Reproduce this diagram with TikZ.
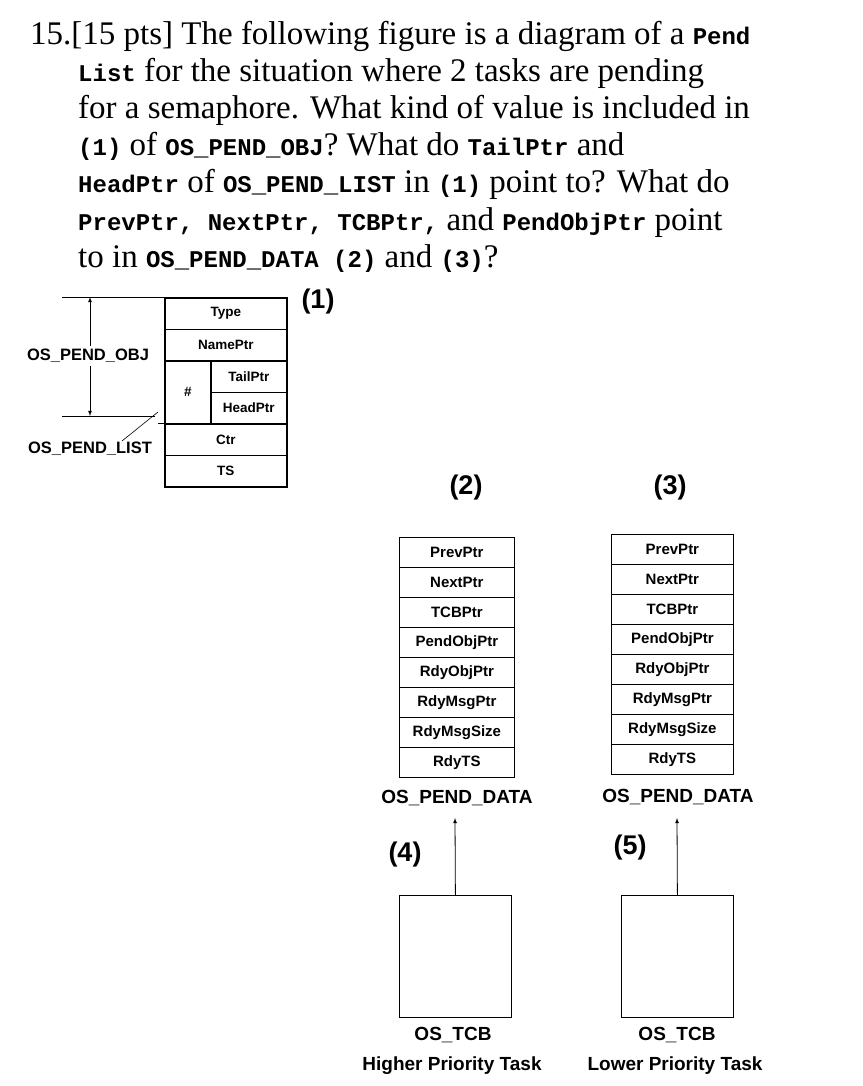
\documentclass[tikz,border=0pt]{standalone}
\usepackage{fontspec}
\setmainfont{Liberation Serif}
\setmonofont{Liberation Mono}
\newfontfamily\dsans{Liberation Sans}
\newcommand{\mtx}[1]{{\fontsize{24}{36}\selectfont\ttfamily\bfseries #1}}
\begin{document}
\begin{tikzpicture}[x=1pt,y=-1pt,
 cell/.style={draw,line width=1.6pt,minimum width=122pt,minimum height=31.5pt,font=\dsans\bfseries\fontsize{13.5}{15}\selectfont,anchor=north west,inner sep=0pt},
 dcell/.style={draw,line width=0.8pt,minimum width=115pt,minimum height=30pt,font=\dsans\bfseries\fontsize{15}{17}\selectfont,anchor=north west,inner sep=0pt},
 lbl/.style={font=\dsans\bfseries\fontsize{16.5}{18}\selectfont},
 big/.style={font=\dsans\bfseries\fontsize{19}{21}\selectfont},
 num/.style={font=\dsans\bfseries\fontsize{27}{29}\selectfont},
 tl/.style={anchor=base west,font=\fontsize{33}{36}\selectfont,inner sep=0pt}]
\useasboundingbox (0,0) rectangle (862,1086);
% question text
\node[tl] (q1) at (30,45) {15.[15 pts] The following figure is a diagram of a \mtx{Pend}};
\node[tl] (q2) at (78,82) {\mtx{List} for the situation where 2 tasks are pending};
\node[tl] (q3) at (78,119) {for a semaphore. What kind of value is included in};
\node[tl] (q4) at (78,156) {\mtx{(1)} of \mtx{OS\_PEND\_OBJ}? What do \mtx{TailPtr} and};
\node[tl] (q5) at (78,193) {\mtx{HeadPtr} of \mtx{OS\_PEND\_LIST} in \mtx{(1)} point to? What do};
\node[tl] (q6) at (78,230) {\mtx{PrevPtr, NextPtr, TCBPtr,} and \mtx{PendObjPtr} point};
\node[tl] (q7) at (78,267) {to in \mtx{OS\_PEND\_DATA (2)} and \mtx{(3)}?};
% structure (1)
\node[cell] (type) at (164,297) {Type};
\node[cell] (name) at (164,328.5) {NamePtr};
\node[cell,minimum width=46pt,minimum height=63pt] (hash) at (164,360) {\#};
\node[cell,minimum width=76pt] (tail) at (210,360) {TailPtr};
\node[cell,minimum width=76pt] (head) at (210,391.5) {HeadPtr};
\node[cell] (ctr) at (164,423) {Ctr};
\node[cell] (ts) at (164,454.5) {TS};
\node[num] (n1) at (318,302) {(1)};
\coordinate (t0) at (62,297);
\coordinate (b0) at (62,416);
\coordinate (b1) at (155,416);
\coordinate (a0) at (90,297);
\coordinate (a1) at (90,416);
\draw[line width=0.8pt] (t0) -- (type.north west);
\draw[line width=0.8pt] (b0) -- (b1);
\draw[line width=0.8pt,-latex] (90,346) -- (a0);
\draw[line width=0.8pt,-latex] (90,366) -- (a1);
\node[lbl,fill=white,inner sep=1pt] (obj) at (88,356) {OS\_PEND\_OBJ};
\node[lbl] (list) at (90,449) {OS\_PEND\_LIST};
\coordinate (l1) at (158,412);
\draw[line width=0.6pt] (122,441) -- (l1);
\draw[line width=0.6pt] (158,423) -- (ctr.north west);
% data (2) and (3)
\foreach \t [count=\i from 0] in {PrevPtr,NextPtr,TCBPtr,PendObjPtr,RdyObjPtr,RdyMsgPtr,RdyMsgSize,RdyTS}{
  \node[dcell] (d2\i) at (399,537+30*\i) {\t};
  \node[dcell,minimum width=122pt] (d3\i) at (611,534+30*\i) {\t};
}
\node[num] (n2) at (466,488) {(2)};
\node[num] (n3) at (670,488) {(3)};
\node[big] (pd2) at (457,798) {OS\_PEND\_DATA};
\node[big] (pd3) at (678,797) {OS\_PEND\_DATA};
% TCBs
\node[draw,line width=0.8pt,minimum width=112pt,minimum height=122pt,anchor=north west] (tcb4) at (399,895) {};
\node[draw,line width=0.8pt,minimum width=112pt,minimum height=122pt,anchor=north west] (tcb5) at (621,895) {};
\coordinate (e4) at (455,818);
\coordinate (e5) at (677,818);
\draw[line width=0.8pt,-latex] (tcb4.north) -- (e4);
\draw[line width=0.8pt,-latex] (tcb5.north) -- (e5);
\node[num] (n4) at (405,855) {(4)};
\node[num] (n5) at (630,848) {(5)};
\node[big] (c4) at (453,1035) {OS\_TCB};
\node[big] (h4) at (452,1066) {Higher Priority Task};
\node[big] (c5) at (677,1035) {OS\_TCB};
\node[big] (h5) at (675,1066) {Lower Priority Task};
\end{tikzpicture}
\end{document}
